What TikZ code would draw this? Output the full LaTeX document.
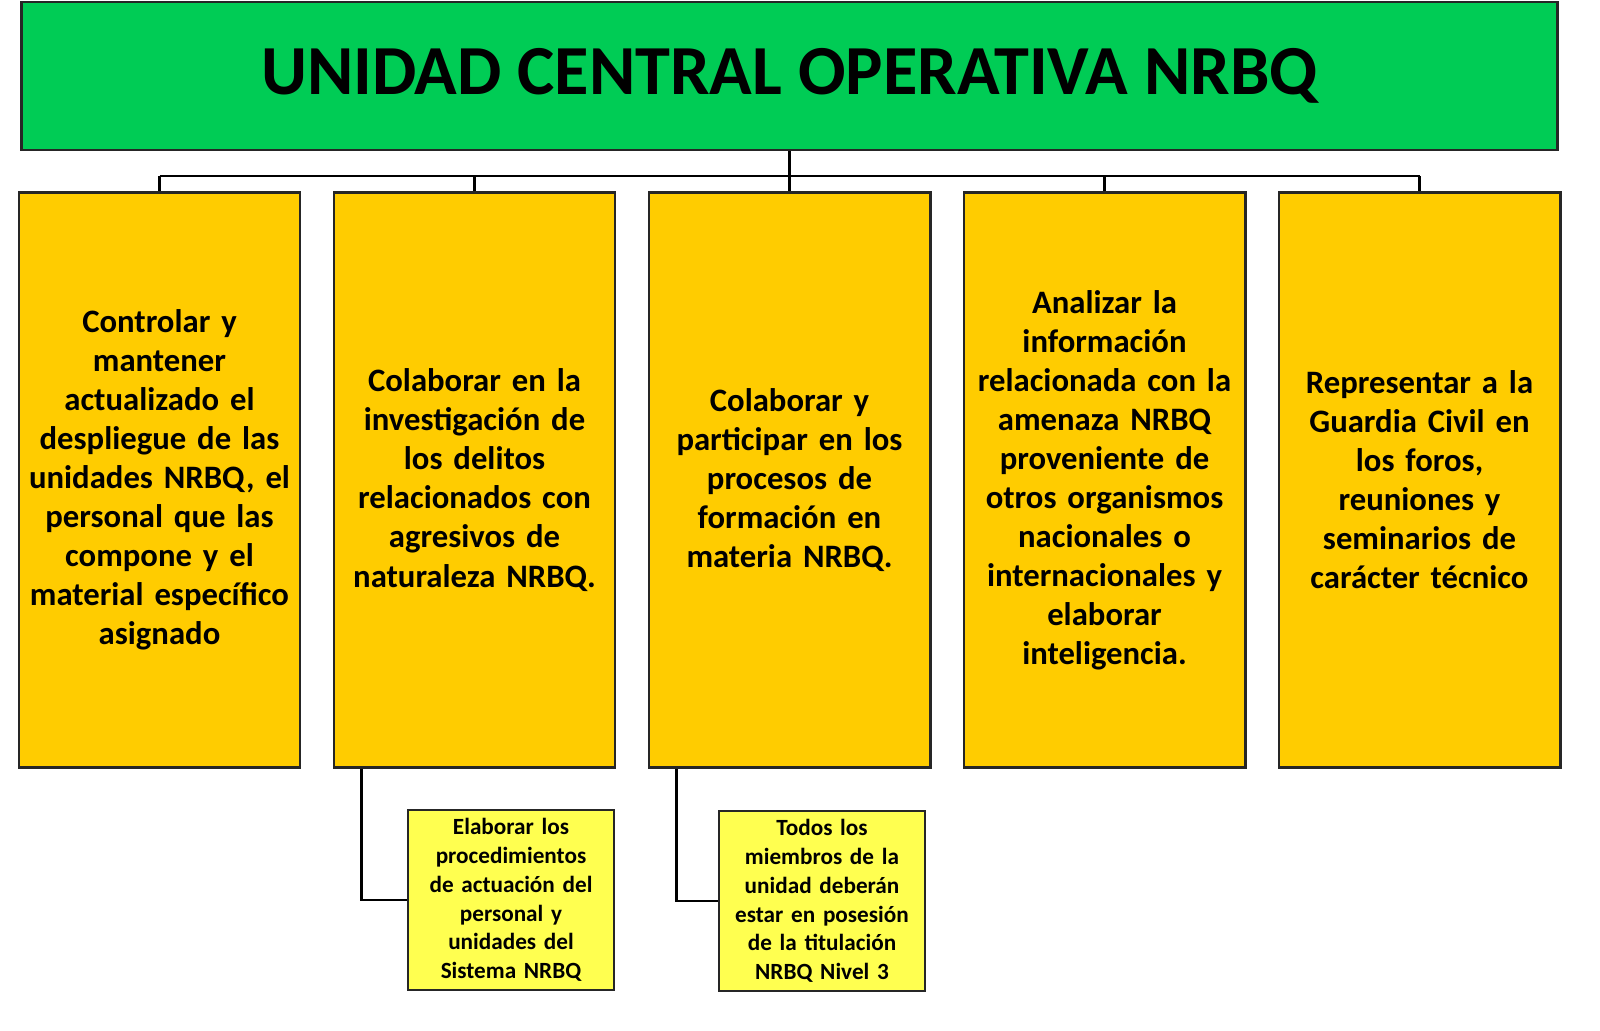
\documentclass[tikz,border=0pt]{standalone}
\usepackage{fontspec}
\setmainfont{Carlito}
\begin{document}
\begin{tikzpicture}[x=0.01cm,y=-0.01cm,
  bigbox/.style={draw=black!85,line width=0.8pt,fill={rgb,255:red,255;green,204;blue,0},minimum width=2.81cm,minimum height=5.74cm,text width=2.81cm,align=center,font=\bfseries\fontsize{9.3}{11.1}\selectfont,inner sep=0pt},
  smallbox/.style={draw=black!85,line width=0.8pt,fill={rgb,255:red,255;green,255;blue,80},minimum width=2.06cm,minimum height=1.8cm,text width=2.06cm,align=center,font=\bfseries\fontsize{6.6}{8.2}\selectfont,inner sep=0pt},
  conn/.style={draw=black,line width=0.8pt}]
\useasboundingbox (0,0) rectangle (1600,1030);
\node[draw=black!85,line width=0.8pt,fill={rgb,255:red,0;green,204;blue,85},minimum width=15.35cm,minimum height=1.48cm,font=\bfseries\fontsize{20}{23}\selectfont] (top) at (789.5,76) {UNIDAD CENTRAL OPERATIVA NRBQ};
\node[bigbox] (b1) at (159.5,480) {Controlar y\\mantener\\actualizado el\\despliegue de las\\unidades NRBQ, el\\personal que las\\compone y el\\material específico\\asignado};
\node[bigbox] (b2) at (474.5,480) {Colaborar en la\\investigación de\\los delitos\\relacionados con\\agresivos de\\naturaleza NRBQ.};
\node[bigbox] (b3) at (789.5,480) {Colaborar y\\participar en los\\procesos de\\formación en\\materia NRBQ.};
\node[bigbox] (b4) at (1104.5,480) {Analizar la\\información\\relacionada con la\\amenaza NRBQ\\proveniente de\\otros organismos\\nacionales o\\internacionales y\\elaborar\\inteligencia.};
\node[bigbox] (b5) at (1419.5,480) {Representar a la\\Guardia Civil en\\los foros,\\reuniones y\\seminarios de\\carácter técnico};
\node[smallbox] (s1) at (511,900) {Elaborar los\\procedimientos\\de actuación del\\personal y\\unidades del\\Sistema NRBQ};
\node[smallbox] (s2) at (822,901) {Todos los\\miembros de la\\unidad deberán\\estar en posesión\\de la titulación\\NRBQ Nivel 3};
\coordinate (h) at (789.5,176);
\draw[conn] (top.south) -- (h);
\foreach \b in {b1,b2,b3,b4,b5} \draw[conn] (h -| \b.north) -- (\b.north);
\draw[conn] (h -| b1.north) -- (h -| b5.north);
\draw[conn] ([xshift=0.29cm]b2.south west) |- (s1.west);
\draw[conn] ([xshift=0.29cm]b3.south west) |- (s2.west);
\end{tikzpicture}
\end{document}
